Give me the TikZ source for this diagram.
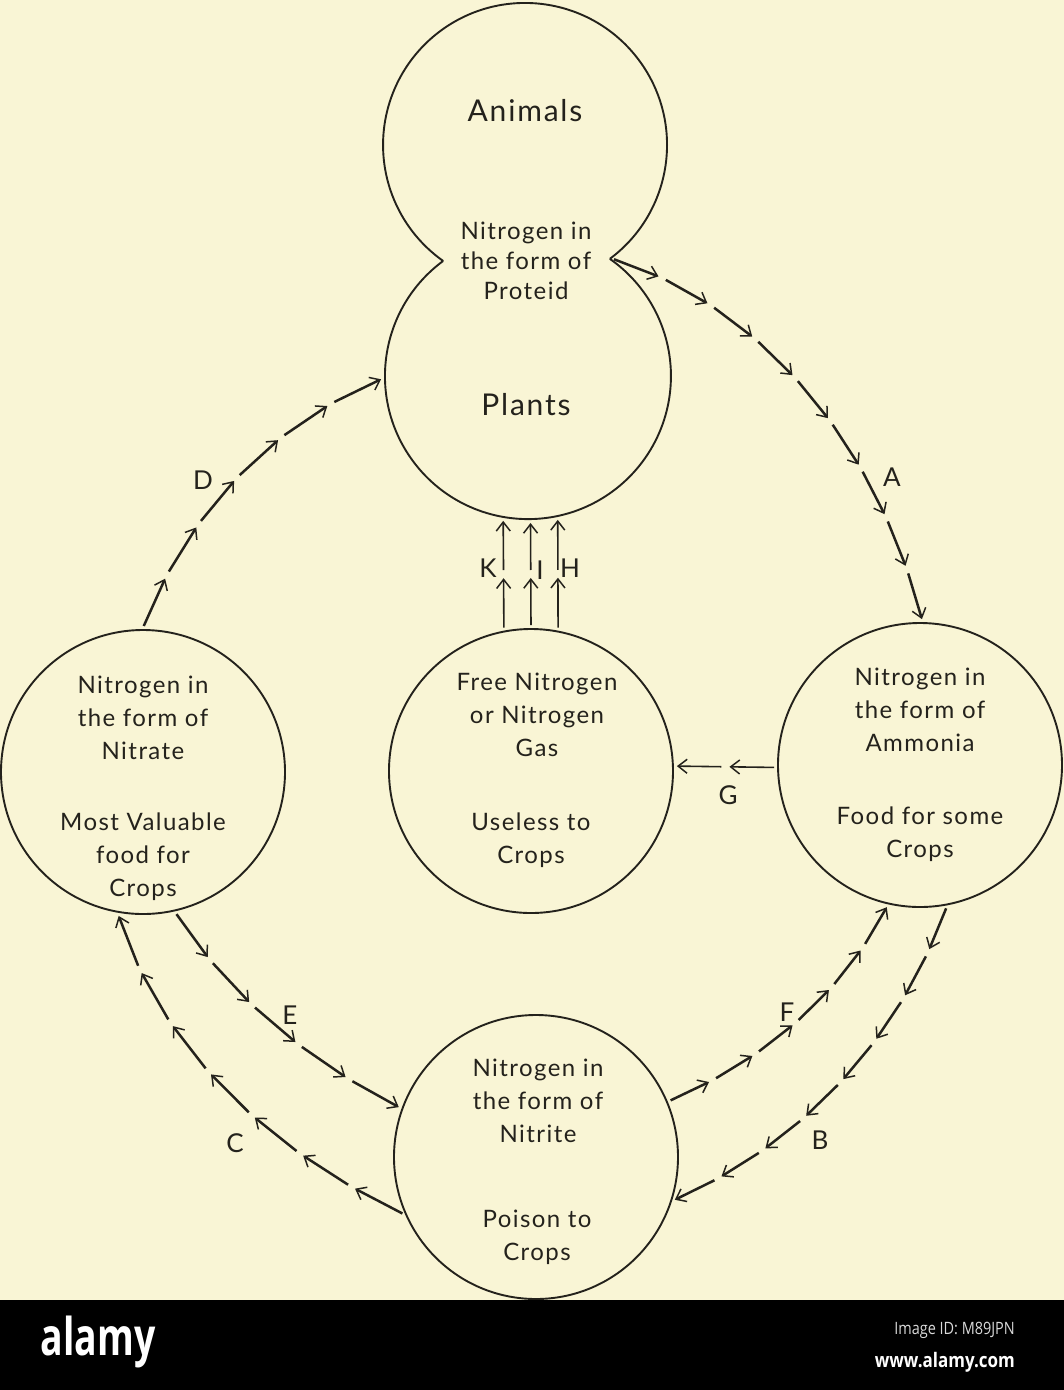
\documentclass[tikz,border=0pt]{standalone}
\usepackage{fontspec}
\usepackage{graphicx}
\setmainfont{Lato}[LetterSpace=6]
\newfontfamily\logofont{Open Sans}
\usetikzlibrary{arrows.meta,decorations.markings}
\definecolor{paper}{RGB}{249,245,213}
\definecolor{ink}{RGB}{36,34,28}
\def\seglw{2.5pt}
\begin{document}
\begin{tikzpicture}[x=1pt,y=-1pt,
  bubble/.style={circle,draw=ink,line width=1.9pt,minimum size=284pt,inner sep=0pt,outer sep=0pt},
  ghost/.style={circle,minimum size=#1,inner sep=0pt,outer sep=0pt},
  rim/.style={draw=ink,line width=1.9pt},
  body/.style={font=\fontsize{24}{33}\selectfont,align=center,text=ink,inner sep=0pt},
  tightbody/.style={font=\fontsize{24}{30}\selectfont,align=center,text=ink,inner sep=0pt},
  title/.style={font=\fontsize{30}{36}\selectfont,text=ink,inner sep=0pt},
  tag/.style={font=\fontsize{26}{28}\selectfont,text=ink,inner sep=0pt},
  seglw/.store in=\seglw,
  seg/.style={draw=ink,line width=\seglw,-{Straight Barb[length=9pt,width=14pt,line width=1.5pt]}},
  flow/.style={postaction={decorate,decoration={markings,
    mark=between positions 0.5/#1 and 1 step 1/#1 with {%
      \pgfmathsetmacro\seghalf{\pgfdecoratedpathlength/(2*#1)-4}%
      \draw[seg] (-\seghalf pt,0pt) -- (\seghalf pt,0pt);}}}}
]
\path[use as bounding box,fill=paper] (0,0) rectangle (1064,1390);

% animals / plants double circle
\node[ghost=284pt] (animals) at (525,145) {};
\node[ghost=286pt] (plants) at (528,376) {};
\coordinate (neckL) at (443.1,261.0);
\coordinate (neckR) at (609.9,258.8);
\draw[rim] (neckR) arc[start angle=-53.3,end angle=234.8,radius=142pt];
\draw[rim] (neckL) arc[start angle=126.4,end angle=415.06,radius=143pt];

% other circles
\node[bubble] (nitrate) at (143,772) {};
\node[bubble] (free) at (531,771) {};
\node[bubble] (ammonia) at (920,765) {};
\node[bubble] (nitrite) at (536,1157) {};

% texts
\node[title] (tAnimals) at (525,111) {Animals};
\node[tightbody] (tProteid) at (526,261) {Nitrogen in\\the form of\\Proteid};
\node[title] (tPlants) at (526,405) {Plants};
\node[body] (tNitrate) at (143,718) {Nitrogen in\\the form of\\Nitrate};
\node[body] (tNitrateUse) at (143,857) {Most Valuable\\food for\\Crops};
\node[body] (tFree) at (537,715) {Free Nitrogen\\or Nitrogen\\Gas};
\node[body] (tFreeUse) at (531,840) {Useless to\\Crops};
\node[body] (tAmmonia) at (920,710) {Nitrogen in\\the form of\\Ammonia};
\node[body] (tAmmoniaUse) at (920,834) {Food for some\\Crops};
\node[body] (tNitrite) at (538,1101) {Nitrogen in\\the form of\\Nitrite};
\node[body] (tNitriteUse) at (537,1237) {Poison to\\Crops};

% connectors
\path[flow=9] (neckR) .. controls (757,303) and (876,440) .. (ammonia.89);
\path[flow=6] (nitrate.90) .. controls (187,513) and (274,423) .. (plants.181);
\path[flow=5] (nitrate.-77) .. controls (226,991) and (304,1059) .. (nitrite.160);
\path[flow=7] (nitrite.204) .. controls (260,1146) and (157,1039) .. (nitrate.260);
\path[flow=6] (nitrite.23) .. controls (766,1060) and (844,991) .. (ammonia.257);
\path[flow=8] (ammonia.281) .. controls (899,1039) and (801,1145) .. (nitrite.342);
\path[seglw=1.6pt,flow=2] (ammonia.181) -- (free.2);
\path[seglw=1.6pt,flow=2] (free.101) -- (plants.260);
\path[seglw=1.6pt,flow=2] (free.90) -- (plants.271);
\path[seglw=1.6pt,flow=2] (free.79) -- (plants.282);

% labels
\node[tag] (lA) at (892,477) {A};
\node[tag] (lB) at (820,1140) {B};
\node[tag] (lC) at (235,1143) {C};
\node[tag] (lD) at (203,480) {D};
\node[tag] (lE) at (290,1015) {E};
\node[tag] (lF) at (787,1012) {F};
\node[tag] (lG) at (728,795) {G};
\node[tag] (lK) at (488,568) {K};
\node[tag] (lI) at (540,570) {I};
\node[tag] (lH) at (570,568) {H};

% footer band
\fill[black] (0,1300) rectangle (1064,1390);
\node[text=white,font=\logofont\bfseries\fontsize{52}{52}\selectfont,inner sep=0pt] (logo) at (98,1342) {\scalebox{0.72}[1]{alamy}};
\node[text=white!85!black,font=\logofont\fontsize{17}{17}\selectfont,anchor=east,inner sep=0pt] (imgid) at (1015,1330) {\scalebox{0.85}[1]{Image ID: M89JPN}};
\node[text=white,font=\logofont\bfseries\fontsize{20}{20}\selectfont,anchor=east,inner sep=0pt] (url) at (1015,1362) {\scalebox{0.85}[1]{www.alamy.com}};
\end{tikzpicture}
\end{document}
